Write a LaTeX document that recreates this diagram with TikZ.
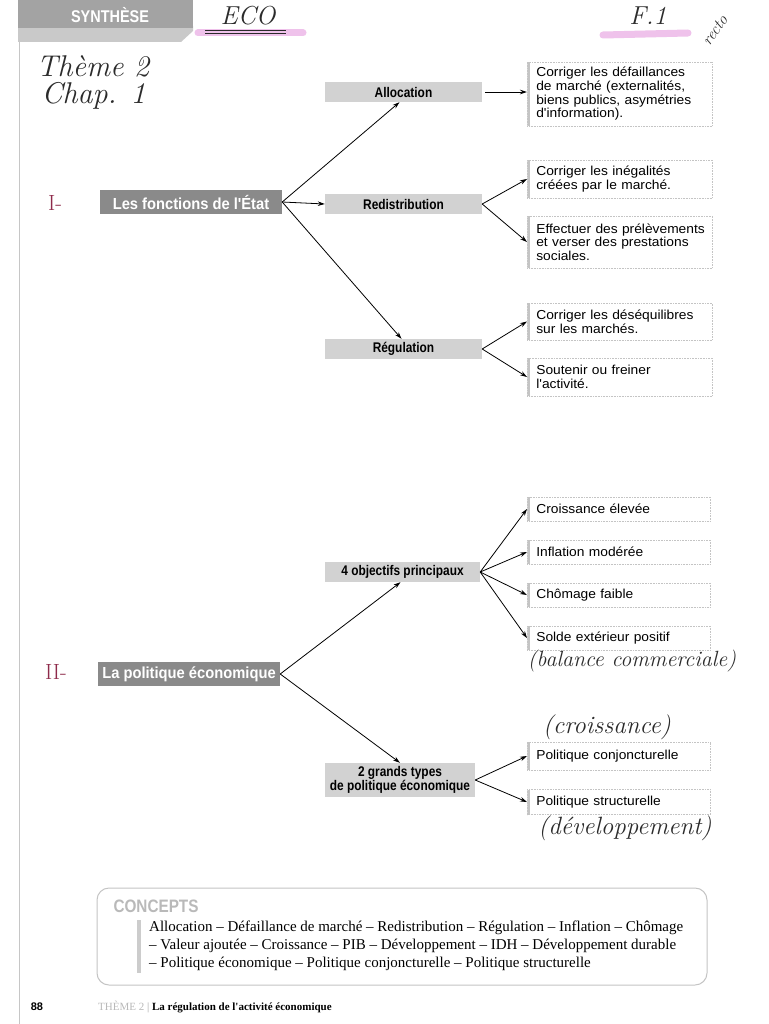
\documentclass[tikz,border=0pt]{standalone}
\usepackage{fontspec}
\usetikzlibrary{arrows.meta}
\setsansfont{Liberation Sans}
\newfontfamily\condb[FakeStretch=0.85]{Liberation Sans}
\newfontfamily\condz[FakeStretch=0.92]{Liberation Sans}
\newfontfamily\widef[FakeStretch=1.06]{Liberation Sans}
\newfontfamily\tms{Liberation Serif}
\hyphenpenalty=10000
\definecolor{darkbox}{HTML}{8A8A8A}
\definecolor{lightbox}{HTML}{D2D2D2}
\definecolor{borderg}{HTML}{C4C4C4}
\definecolor{handc}{HTML}{2B2B2B}
\definecolor{maroonc}{HTML}{8E2A4A}
\definecolor{pinkhl}{HTML}{EBB3E6}
\definecolor{tabdark}{HTML}{A3A3A3}
\definecolor{tablight}{HTML}{C9C9C9}
\begin{document}
\begin{tikzpicture}[x=1pt,y=-1pt,
  lz/.style={fill=darkbox,text=white,minimum width=182pt,minimum height=24pt,inner sep=1pt,font=\condz\bfseries\fontsize{16}{17}\selectfont},
  lo/.style={fill=lightbox,text=black,minimum width=157pt,minimum height=20pt,inner sep=1pt,align=center,font=\condb\bfseries\fontsize{14}{14}\selectfont},
  lt/.style={draw=borderg,densely dotted,line width=0.6pt,anchor=west,minimum width=185pt,text width=185pt,align=left,inner xsep=0pt,inner ysep=2pt,font=\widef\fontsize{13}{13.7}\selectfont,
    execute at begin node={\leftskip=9pt\relax},
    path picture={\fill[borderg] (path picture bounding box.north west) rectangle ([xshift=3pt]path picture bounding box.south west);}},
  arr/.style={-{Stealth[length=7pt,width=4.5pt]},line width=0.8pt,black},
  hand/.style={text=handc,font=\itshape\fontsize{24}{26}\selectfont\addfontfeatures{LetterSpace=6}},
  handm/.style={text=maroonc,font=\fontsize{22}{24}\selectfont}]
\useasboundingbox (0,0) rectangle (768,1024);
\fill[white] (0,0) rectangle (768,1024);
% left margin line
\draw[gray!45,line width=0.8pt] (19,0) -- (19,1024);
% header tab
\fill[tablight] (18,26) -- (193,26) -- (193,31) -- (181,42) -- (18,42) -- cycle;
\fill[tabdark] (18,0) rectangle (193,28);
\node[text=white,font=\condb\bfseries\fontsize{17}{18}\selectfont] (syn) at (110,15) {SYNTHÈSE};
% handwritten header
\draw[pinkhl,line width=7pt,opacity=0.8,line cap=round] (198,33) -- (303,33);
\draw[pinkhl,line width=7pt,opacity=0.8,line cap=round] (603,35) -- (688,33);
\draw[handc,line width=0.7pt] (205,30) -- (286,30);
\draw[handc,line width=0.7pt] (205,33) -- (286,33);
\node[hand,font=\itshape\fontsize{26}{28}\selectfont\addfontfeatures{LetterSpace=25}] (eco) at (248,16) {ECO};
\node[hand,font=\itshape\fontsize{26}{28}\selectfont\addfontfeatures{LetterSpace=15}] (f1) at (648,16) {F.1};
\node[hand,rotate=55,font=\itshape\fontsize{16}{17}\selectfont] (recto) at (715,30) {recto};
\node[hand,anchor=west,font=\itshape\fontsize{30}{32}\selectfont\addfontfeatures{LetterSpace=4}] (th) at (33,66) {Thème 2};
\node[hand,anchor=west,font=\itshape\fontsize{30}{32}\selectfont\addfontfeatures{LetterSpace=12}] (ch) at (38,96) {Chap. 1};
\node[handm] (one) at (55,203) {I-};
\node[handm] (two) at (56,672) {II-};
% Part I
\node[lz] (fe) at (191,202) {Les fonctions de l'État};
\node[lo] (alloc) at (403.5,92) {Allocation};
\node[lo] (redis) at (403.5,204) {Redistribution};
\node[lo] (regul) at (403.5,349) {Régulation};
\node[lt,minimum height=64pt] (c1) at (527,94) {Corriger les défaillances\\de marché (externalités,\\biens publics, asymétries\\d'information).};
\node[lt,minimum height=38pt] (c2) at (527,179) {Corriger les inégalités\\créées par le marché.};
\node[lt,minimum height=52pt] (c3) at (527,242) {Effectuer des prélèvements\\et verser des prestations\\sociales.};
\node[lt,minimum height=37pt] (c4) at (527,321.5) {Corriger les déséquilibres\\sur les marchés.};
\node[lt,minimum height=38pt] (c5) at (527,377) {Soutenir ou freiner\\l'activité.};
\draw[arr] (fe.east) -- ([xshift=-4pt]alloc.south);
\draw[arr] (fe.east) -- (redis.west);
\draw[arr] (fe.east) -- ([xshift=-2pt]regul.north);
\draw[arr] ([xshift=3pt]alloc.east) -- (alloc.east -| c1.west);
\draw[arr] (redis.east) -- (c2.west);
\draw[arr] (redis.east) -- (c3.west);
\draw[arr] (regul.east) -- (c4.west);
\draw[arr] (regul.east) -- (c5.west);
% Part II
\node[lz] (pe) at (189,674) {La politique économique};
\node[lo,minimum width=155pt] (obj) at (402.5,572) {4 objectifs principaux};
\node[lo,minimum width=150pt,minimum height=34pt,font=\condb\bfseries\fontsize{14}{14.5}\selectfont] (types) at (400,780) {2 grands types\\de politique économique};
\node[lt,minimum width=183pt,text width=183pt,minimum height=24pt] (o1) at (527,509) {Croissance élevée};
\node[lt,minimum width=183pt,text width=183pt,minimum height=24pt] (o2) at (527,552) {Inflation modérée};
\node[lt,minimum width=183pt,text width=183pt,minimum height=24pt] (o3) at (527,595) {Chômage faible};
\node[lt,minimum width=183pt,text width=183pt,minimum height=24pt] (o4) at (527,638) {Solde extérieur positif};
\node[lt,minimum width=183pt,text width=183pt,minimum height=28pt] (t1) at (527,756) {Politique conjoncturelle};
\node[lt,minimum width=183pt,text width=183pt,minimum height=25pt] (t2) at (527,802) {Politique structurelle};
\draw[arr] (pe.east) -- ([xshift=-2pt]obj.south);
\draw[arr] (pe.east) -- (types.north);
\draw[arr] (obj.east) -- (o1.west);
\draw[arr] (obj.east) -- (o2.west);
\draw[arr] (obj.east) -- (o3.west);
\draw[arr] (obj.east) -- (o4.west);
\draw[arr] (types.east) -- (t1.west);
\draw[arr] (types.east) -- (t2.west);
\node[hand,font=\itshape\fontsize{22}{24}\selectfont\addfontfeatures{LetterSpace=4}] (bal) at (632,661) {(balance commerciale)};
\node[hand,font=\itshape\fontsize{25}{27}\selectfont\addfontfeatures{LetterSpace=15}] (cro) at (607,727) {(croissance)};
\node[hand,font=\itshape\fontsize{25}{27}\selectfont\addfontfeatures{LetterSpace=10}] (dev) at (625,828) {(développement)};
% Concepts
\draw[borderg,line width=1pt,rounded corners=12pt] (97,888) rectangle (707,985);
\node[anchor=west,text=gray!55,font=\condb\bfseries\fontsize{18}{19}\selectfont] (cpt) at (110,906) {CONCEPTS};
\fill[gray!40] (137,920) rectangle (141,973);
\node[anchor=north west,align=left,inner sep=0pt,font=\tms\fontsize{15}{18}\selectfont] (ctext) at (149,921) {Allocation – Défaillance de marché – Redistribution – Régulation – Inflation – Chômage\\– Valeur ajoutée – Croissance – PIB – Développement – IDH – Développement durable\\– Politique économique – Politique conjoncturelle – Politique structurelle};
% Footer
\node[font=\sffamily\bfseries\fontsize{11}{12}\selectfont] (pg) at (37,1007) {88};
\node[anchor=west,inner sep=0pt,font=\tms\fontsize{11}{12}\selectfont] (foot) at (98,1007) {{\color{gray!55}THÈME 2} {\color{gray!70}|} \textbf{La régulation de l'activité économique}};
\end{tikzpicture}
\end{document}
